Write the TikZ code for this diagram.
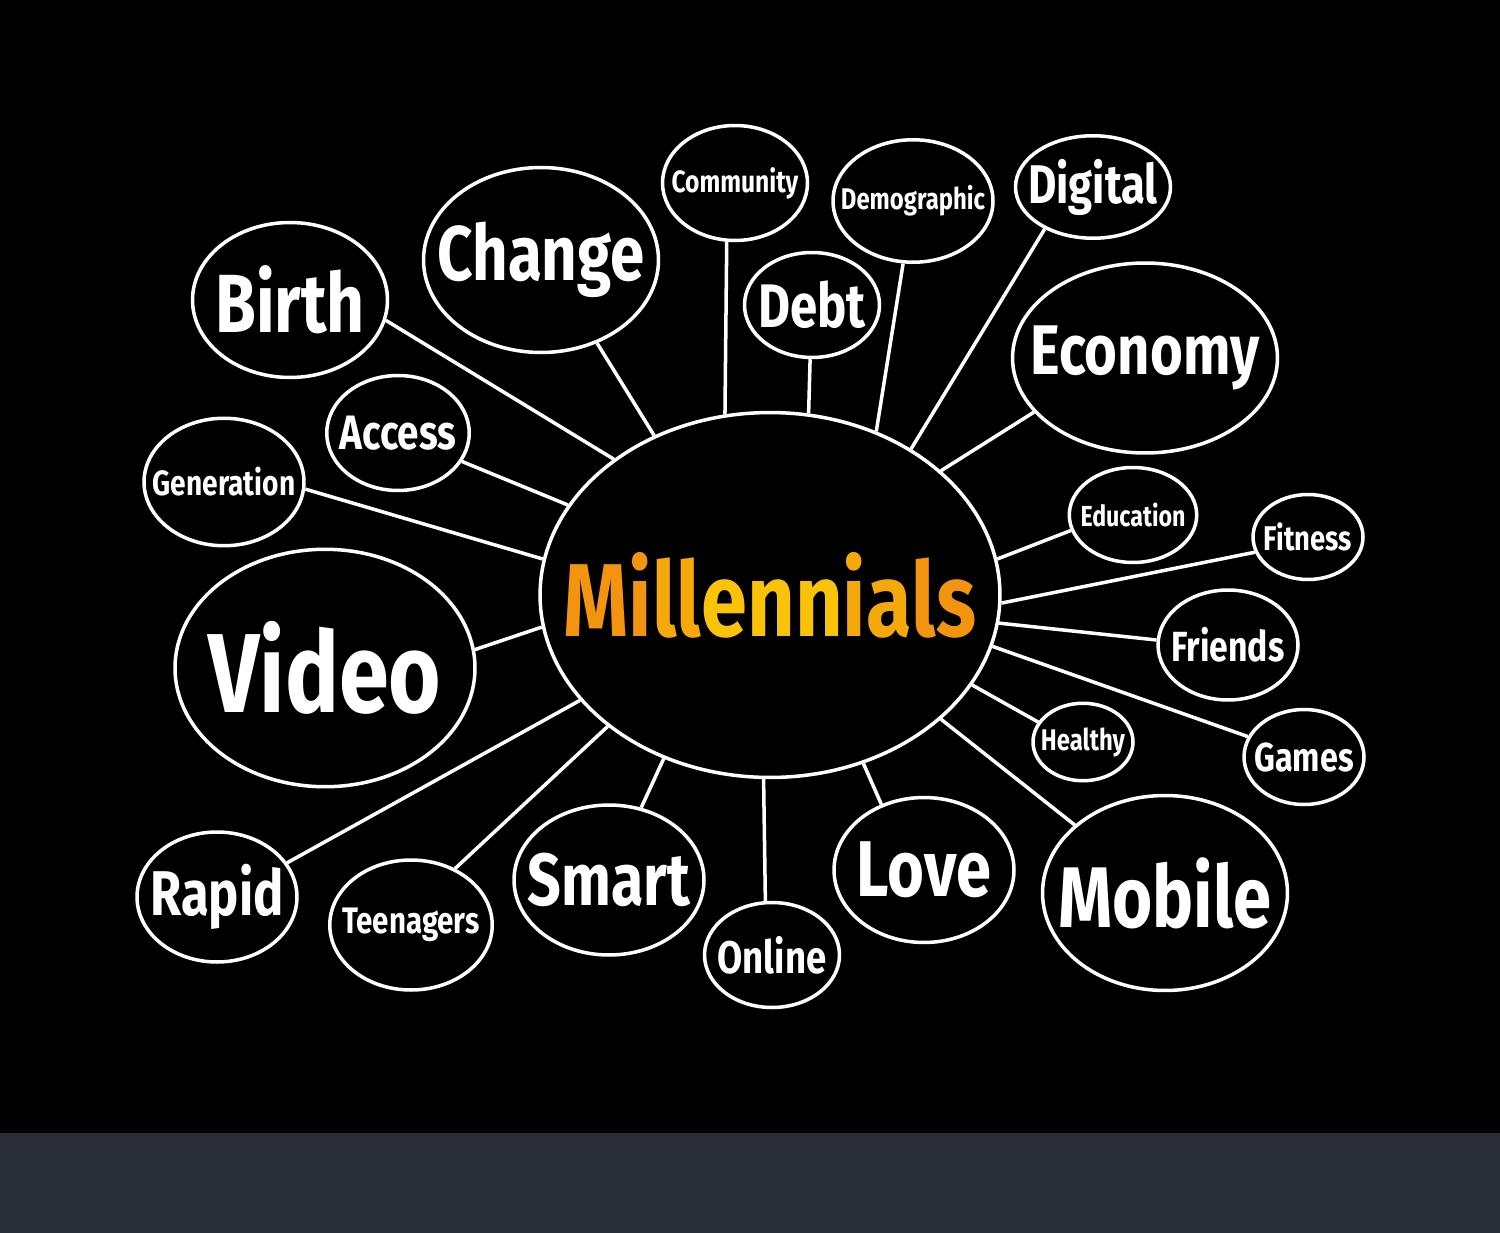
\documentclass[tikz,border=0pt]{standalone}
\usepackage{fontspec}
\setmainfont[FakeStretch=0.8]{Fira Sans}
\usepackage{tikz}
\usetikzlibrary{shapes.geometric}

\definecolor{barGrey}{HTML}{282D37}
\definecolor{mOne}{HTML}{F29410}
\definecolor{mTwo}{HTML}{F5A80A}
\definecolor{mThree}{HTML}{FAC30A}

\newcommand{\fs}[1]{\fontsize{#1}{#1}\selectfont}
\newcommand{\btext}[1]{\makebox[0pt]{#1}}

\tikzset{
    bubble/.style={ellipse, draw=white, line width=2pt, inner sep=0pt, text=white, font=\bfseries},
    link/.style={draw=white, line width=2pt}
}

\begin{document}
\begin{tikzpicture}[x=0.02cm, y=-0.02cm]
    \fill[black] (0, 0) rectangle (1500, 1233);
    \fill[barGrey] (0, 1133) rectangle (1500, 1233);

    % centre
    \node[bubble, minimum width=9.2cm, minimum height=7.3cm] (mill) at (770, 595)
        {\btext{\fs{59}\color{mOne}Mi\color{mTwo}ll\color{mThree}enn\color{mTwo}ia\color{mOne}ls}};

    % top and left
    \node[bubble, minimum width=3.9cm, minimum height=3.1cm] (birth) at (290, 300) {\btext{\fs{47}Birth}};
    \node[bubble, minimum width=4.7cm, minimum height=3.7cm] (change) at (541, 260) {\btext{\fs{44}Change}};
    \node[bubble, minimum width=2.9cm, minimum height=2.3cm] (community) at (735, 183) {\btext{\fs{17.5}Community}};
    \node[bubble, minimum width=3.2cm, minimum height=2.45cm] (demographic) at (913, 201) {\btext{\fs{17}Demographic}};
    \node[bubble, minimum width=3.1cm, minimum height=2.05cm] (digital) at (1093, 187) {\btext{\fs{31}Digital}};
    \node[bubble, minimum width=2.7cm, minimum height=2.1cm] (debt) at (812, 305) {\btext{\fs{35}Debt}};
    \node[bubble, minimum width=5.3cm, minimum height=3.8cm] (economy) at (1145, 358) {\btext{\fs{40}Economy}};
    \node[bubble, minimum width=2.85cm, minimum height=2.3cm] (access) at (398, 433) {\btext{\fs{27.5}Access}};
    \node[bubble, minimum width=3.2cm, minimum height=2.55cm] (generation) at (224, 482) {\btext{\fs{20}Generation}};
    \node[bubble, minimum width=6cm, minimum height=4.75cm] (video) at (325, 668) {\btext{\fs{64}Video}};

    % right
    \node[bubble, minimum width=2.55cm, minimum height=1.9cm] (education) at (1133, 515) {\btext{\fs{16.5}Education}};
    \node[bubble, minimum width=2.2cm, minimum height=1.7cm] (fitness) at (1308, 537) {\btext{\fs{19.5}Fitness}};
    \node[bubble, minimum width=2.8cm, minimum height=2.2cm] (friends) at (1228, 645) {\btext{\fs{24}Friends}};
    \node[bubble, minimum width=2cm, minimum height=1.55cm] (healthy) at (1083, 742) {\btext{\fs{17}Healthy}};
    \node[bubble, minimum width=2.4cm, minimum height=1.9cm] (games) at (1304, 757) {\btext{\fs{23}Games}};
    \node[bubble, minimum width=4.9cm, minimum height=3.9cm] (mobile) at (1165, 893) {\btext{\fs{49}Mobile}};

    % bottom
    \node[bubble, minimum width=3.2cm, minimum height=2.6cm] (rapid) at (217, 897) {\btext{\fs{36}Rapid}};
    \node[bubble, minimum width=3.25cm, minimum height=2.6cm] (teenagers) at (411, 925) {\btext{\fs{21}Teenagers}};
    \node[bubble, minimum width=3.8cm, minimum height=3cm] (smart) at (609, 880) {\btext{\fs{42}Smart}};
    \node[bubble, minimum width=2.7cm, minimum height=2.1cm] (online) at (772, 955) {\btext{\fs{26}Online}};
    \node[bubble, minimum width=3.6cm, minimum height=2.9cm] (love) at (924, 870) {\btext{\fs{45}Love}};

    % links to the centre
    \draw[link] (birth.-12) -- (mill.139.8);
    \draw[link] (change.-56) -- (mill.126.5);
    \draw[link] (community.-98) -- (mill.104.7);
    \draw[link] (debt.-92) -- (mill.78.4);
    \draw[link] (demographic.-99) -- (mill.57.5);
    \draw[link] (digital.-139) -- (mill.46);
    \draw[link] (economy.-154) -- (mill.36.5);
    \draw[link] (access.-24) -- (mill.156.5);
    \draw[link] (generation.-5.6) -- (mill.171.2);
    \draw[link] (video.7.4) -- (mill.188.2);
    \draw[link] (education.194) -- (mill.9);
    \draw[link] (fitness.196.5) -- (mill.-2);
    \draw[link] (friends.176) -- (mill.-7.5);
    \draw[link] (games.160) -- (mill.-13.4);
    \draw[link] (healthy.156.5) -- (mill.-24.9);
    \draw[link] (mobile.143.8) -- (mill.-36.3);
    \draw[link] (love.123) -- (mill.-61.1);
    \draw[link] (online.97.5) -- (mill.-92.5);
    \draw[link] (smart.66.7) -- (mill.-123.4);
    \draw[link] (teenagers.52) -- (mill.-141.5);
    \draw[link] (rapid.26) -- (mill.-151.6);
\end{tikzpicture}
\end{document}
